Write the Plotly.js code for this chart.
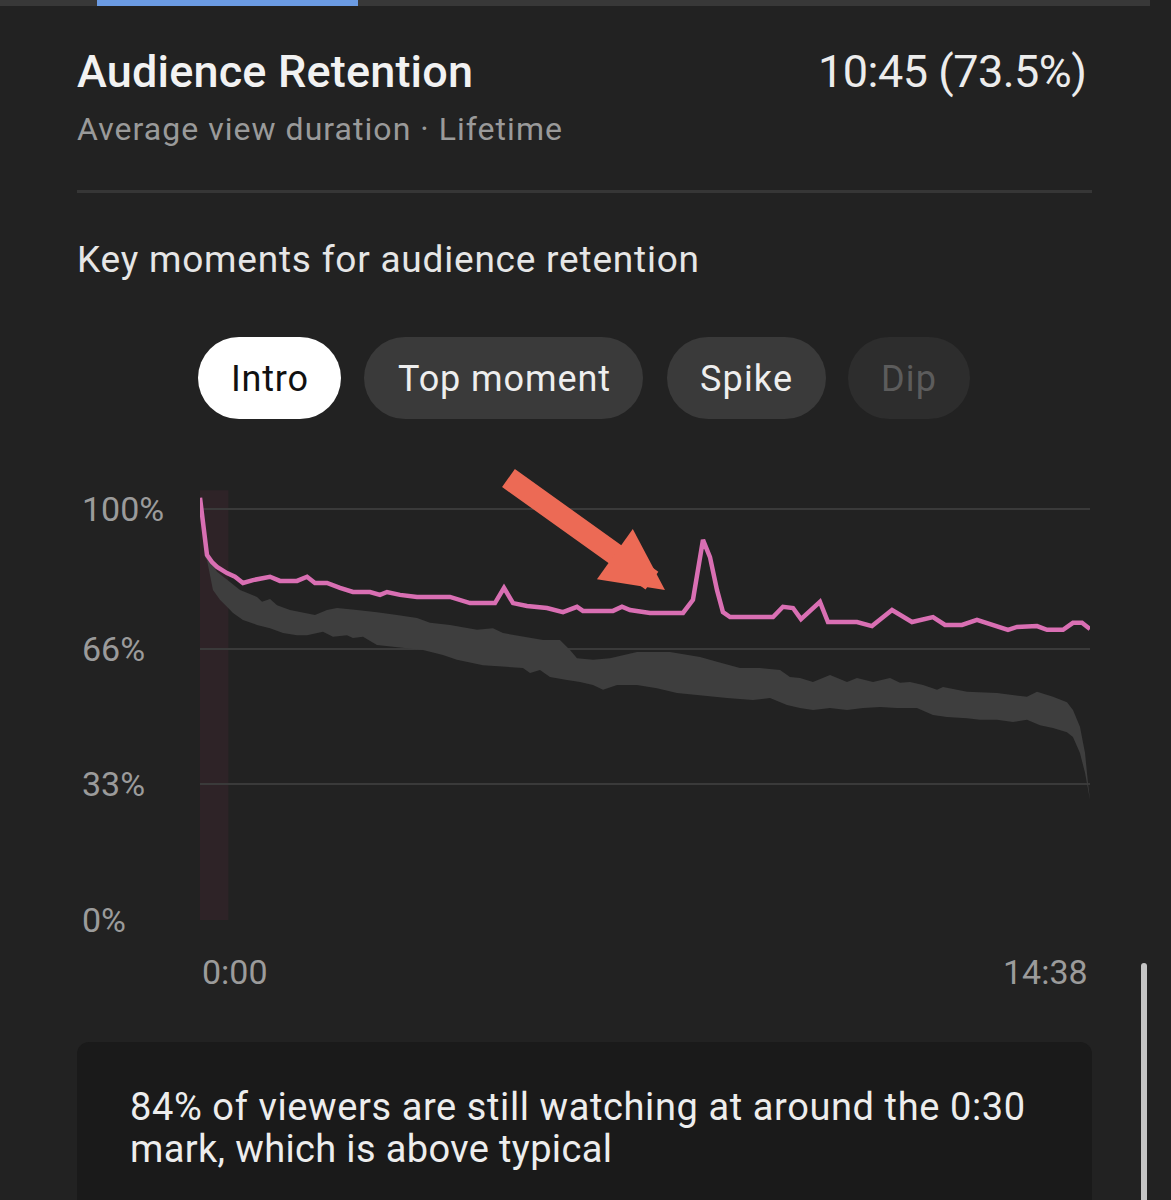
<!DOCTYPE html>
<html>
<head>
<meta charset="utf-8">
<script src="https://cdn.plot.ly/plotly-3.0.1.min.js"></script>
<style>
  html, body { margin:0; padding:0; background:#222222; width:1171px; height:1200px; overflow:hidden; font-family: Roboto, "Noto Sans", sans-serif; }
  #chart { position:absolute; left:0; top:0; width:1171px; height:1200px; }
  .abs { position:absolute; white-space:nowrap; line-height:normal; }
  .chip { position:absolute; height:82px; border-radius:41px; }
</style>
</head>
<body>
<div class="abs" style="left:0;top:0;width:1150px;height:6px;background:#383838;"></div>
<div class="abs" style="left:97px;top:0;width:261px;height:6px;background:#6b9be3;"></div>
<div class="abs" style="left:77px;top:190px;width:1015px;height:3px;background:#363636;"></div>
<div class="abs" style="left:1141px;top:963px;width:6px;height:260px;background:#c4c4c4;border-radius:3px;"></div>
<div class="abs" style="left:77px;top:1042px;width:1015px;height:200px;background:#1a1a1a;border-radius:12px;"></div>
<div id="chart"></div>
<div id="ui"></div>
<script>
// ---- data ----
const videoLength = 878; // seconds (14:38)
const introWindow = [0, 30];
const xTickVals = [0, 878];
const xTickText = ["0:00", "14:38"];
const yTickVals = [0, 33, 66, 100];
const yTickText = ["0%", "33%", "66%", "100%"];

// this video's retention (seconds, % of viewers)
const retentionT = [0,3.0,6.9,11.8,16.8,26.6,34.5,42.4,52.3,69.1,78.9,95.7,105.6,113.4,125.3,138.1,150.9,167.7,177.6,184.5,197.3,214.1,246.6,266.4,291.0,299.9,308.8,322.6,342.3,358.1,371.9,377.8,407.4,416.3,424.2,443.9,476.5,486.3,496.2,503.1,510.0,515.9,522.9,565.3,575.1,585.0,592.9,611.6,619.5,648.1,662.9,682.7,702.4,723.1,735.0,751.7,766.5,797.1,806.0,825.7,835.6,851.4,861.2,870.1,878];
const retentionV = [102.7,97.3,88.8,87.1,85.9,84.4,83.5,82.0,82.7,83.5,82.5,82.5,83.5,82.0,82.0,80.8,79.8,79.8,79.1,79.8,79.1,78.6,78.6,77.1,77.1,80.8,77.1,76.4,75.9,74.9,76.2,75.2,75.2,76.2,75.4,74.7,74.7,77.9,92.5,88.3,80.3,74.9,73.7,73.7,76.2,75.9,73.2,77.4,72.5,72.5,71.5,75.4,72.5,73.7,71.8,71.8,73.0,70.6,71.3,71.5,70.6,70.6,72.3,72.3,70.8];

// typical range band: upper edge
const typicalHighT = [4.9,6.9,16.8,26.6,39.5,56.2,61.2,69.1,76.0,88.8,113.4,125.3,135.2,154.9,174.6,194.3,214.1,226.9,246.6,273.3,289.0,298.9,318.6,338.4,355.1,365.0,371.9,387.7,404.5,431.1,463.7,493.3,510.0,532.7,552.5,572.2,582.0,591.9,604.7,621.5,638.3,648.1,663.9,680.7,690.6,700.4,713.3,727.1,733.0,756.7,786.3,802.0,815.8,825.7,841.5,855.3,861.2,868.1,873.1,876.0,878];
const typicalHighV = [88.8,88.3,84.7,82.7,80.3,78.6,77.4,78.1,76.6,75.4,74.2,75.4,75.9,75.4,74.9,74.2,73.5,72.3,71.8,70.6,71.0,69.8,68.9,68.1,68.1,65.7,63.7,63.3,63.7,65.2,65.2,64.0,62.8,61.3,61.3,60.8,59.1,58.9,57.9,59.6,57.9,58.9,57.9,58.9,57.7,57.9,57.2,56.0,56.7,55.5,55.2,54.7,54.3,55.5,54.3,53.0,51.1,47.0,40.6,33.3,29.2];
// typical range band: lower edge
const typicalLowT = [4.9,6.9,12.8,19.7,26.6,32.6,42.4,56.2,69.1,81.9,95.7,105.6,121.3,131.2,145.0,150.9,160.8,174.6,194.3,220.0,239.7,253.5,279.2,298.9,318.6,325.6,335.4,345.3,362.1,374.9,387.7,397.6,411.4,431.1,450.8,470.6,493.3,519.9,545.5,562.3,579.1,591.9,604.7,621.5,638.3,654.1,670.8,687.6,707.3,723.1,736.9,756.7,769.5,786.3,802.0,815.8,828.7,841.5,855.3,861.2,868.1,873.1,878];
const typicalLowV = [88.3,87.6,80.3,77.9,76.2,74.7,73.0,71.8,71.0,69.8,69.3,69.3,70.1,68.9,69.3,68.6,68.9,66.9,66.4,65.7,64.5,63.3,62.0,61.6,61.3,60.1,60.8,59.1,58.4,57.9,57.2,56.0,57.2,57.2,56.4,55.2,54.7,54.0,53.5,54.0,52.3,51.6,51.1,51.6,51.1,51.6,51.8,51.6,51.6,49.9,49.4,49.1,48.7,48.7,48.2,48.7,47.4,46.7,45.7,44.5,40.6,35.8,29.2];

const chips = ["Intro", "Top moment", "Spike", "Dip"];
const spikeTip = {t: 458.7, v: 80.3};

// ---- chart ----
const bandX = typicalHighT.concat(typicalLowT.slice().reverse());
const bandY = typicalHighV.concat(typicalLowV.slice().reverse());

const traces = [
  { x: bandX, y: bandY, type: 'scatter', mode: 'lines', fill: 'toself',
    fillcolor: '#3e3e3e', line: {width: 0, color: 'rgba(0,0,0,0)'}, hoverinfo: 'skip' },
  { x: retentionT, y: retentionV, type: 'scatter', mode: 'lines',
    line: {color: '#d96fb3', width: 4.5}, hoverinfo: 'skip' }
];

const plotL = 200, plotR = 1090;
const annotations = [];
yTickVals.forEach((v, i) => annotations.push({
  xref: 'paper', x: (80 - plotL) / (plotR - plotL), xanchor: 'left',
  yref: 'y', y: v, yanchor: 'middle', text: yTickText[i], showarrow: false,
  font: {family: 'Roboto', size: 34, color: '#9b9b9b'}
}));
xTickVals.forEach((v, i) => annotations.push({
  xref: 'x', x: v, xanchor: i === 0 ? 'left' : 'right',
  yref: 'paper', y: 0, yshift: -52, yanchor: 'middle', text: xTickText[i], showarrow: false,
  font: {family: 'Roboto', size: 34, color: '#9b9b9b'}
}));
annotations.push({
  xref: 'x', yref: 'y', x: spikeTip.t, y: spikeTip.v, ax: -158, ay: -113,
  text: '', showarrow: true, arrowhead: 2, arrowsize: 0.56, arrowwidth: 22,
  arrowcolor: '#ec6a55'
});

const layout = {
  width: 1171, height: 1200,
  margin: {l: plotL, r: 1171 - plotR, t: 488, b: 280, pad: 0},
  paper_bgcolor: 'rgba(0,0,0,0)', plot_bgcolor: 'rgba(0,0,0,0)',
  showlegend: false,
  xaxis: {range: [0, videoLength], showgrid: false, zeroline: false, showline: false,
          showticklabels: false, ticks: '', fixedrange: true},
  yaxis: {range: [0, 105.1], tickvals: yTickVals, showgrid: true, gridcolor: '#3a3a3a', gridwidth: 2,
          zeroline: false, showline: false, showticklabels: false, ticks: '', fixedrange: true},
  shapes: [{type: 'rect', xref: 'x', yref: 'paper', x0: introWindow[0] - 2, x1: introWindow[1] - 2, y0: 0, y1: 0.995,
            fillcolor: '#2e2327', line: {width: 0}, layer: 'below'}],
  annotations: annotations
};
Plotly.newPlot('chart', traces, layout, {staticPlot: true, displayModeBar: false});

// ---- UI text ----
const ui = document.getElementById('ui');
function fit(d, target) {
  const n = d.textContent.length;
  const w = d.getBoundingClientRect().width;
  if (target && n > 1) d.style.letterSpacing = ((target - w) / (n - 1)) + 'px';
}
function place(text, x, baseline, size, weight, color, anchor, target) {
  const d = document.createElement('div');
  d.className = 'abs';
  d.textContent = text;
  d.style.fontSize = size + 'px';
  d.style.fontWeight = weight;
  d.style.color = color;
  d.style.top = (baseline - 0.928 * size) + 'px';
  ui.appendChild(d);
  fit(d, target);
  if (anchor === 'right') d.style.left = (x - target) + 'px';
  else d.style.left = x + 'px';
  return d;
}
place("Audience Retention", 77, 87, 45, 500, '#f2f2f2', 'left', 396);
place("10:45 (73.5%)", 1087, 87, 45, 400, '#ececec', 'right', 269);
place("Average view duration · Lifetime", 77, 140, 32, 400, '#9a9a9a', 'left', 485);
place("Key moments for audience retention", 77, 272, 37, 400, '#e6e6e6', 'left', 622);
place("84% of viewers are still watching at around the 0:30", 130, 1120, 38, 400, '#ededed', 'left', 895);
place("mark, which is above typical", 130, 1162, 38, 400, '#ededed', 'left', 482);

const chipBoxes = [[198, 143], [364, 279], [667, 159], [848, 122]];
const chipTextX = [231, 398, 700, 881];
const chipTextW = [77, 212, 92, 55];
const chipStyles = [
  {bg: '#ffffff', fg: '#111111'},
  {bg: '#3a3a3a', fg: '#eeeeee'},
  {bg: '#3a3a3a', fg: '#eeeeee'},
  {bg: '#2d2d2d', fg: '#5c5c5c'}
];
chips.forEach((c, i) => {
  const d = document.createElement('div');
  d.className = 'chip';
  d.style.left = chipBoxes[i][0] + 'px';
  d.style.width = chipBoxes[i][1] + 'px';
  d.style.top = '337px';
  d.style.background = chipStyles[i].bg;
  ui.appendChild(d);
  place(c, chipTextX[i], 391, 36, 400, chipStyles[i].fg, 'left', chipTextW[i]);
});
</script>
</body>
</html>
